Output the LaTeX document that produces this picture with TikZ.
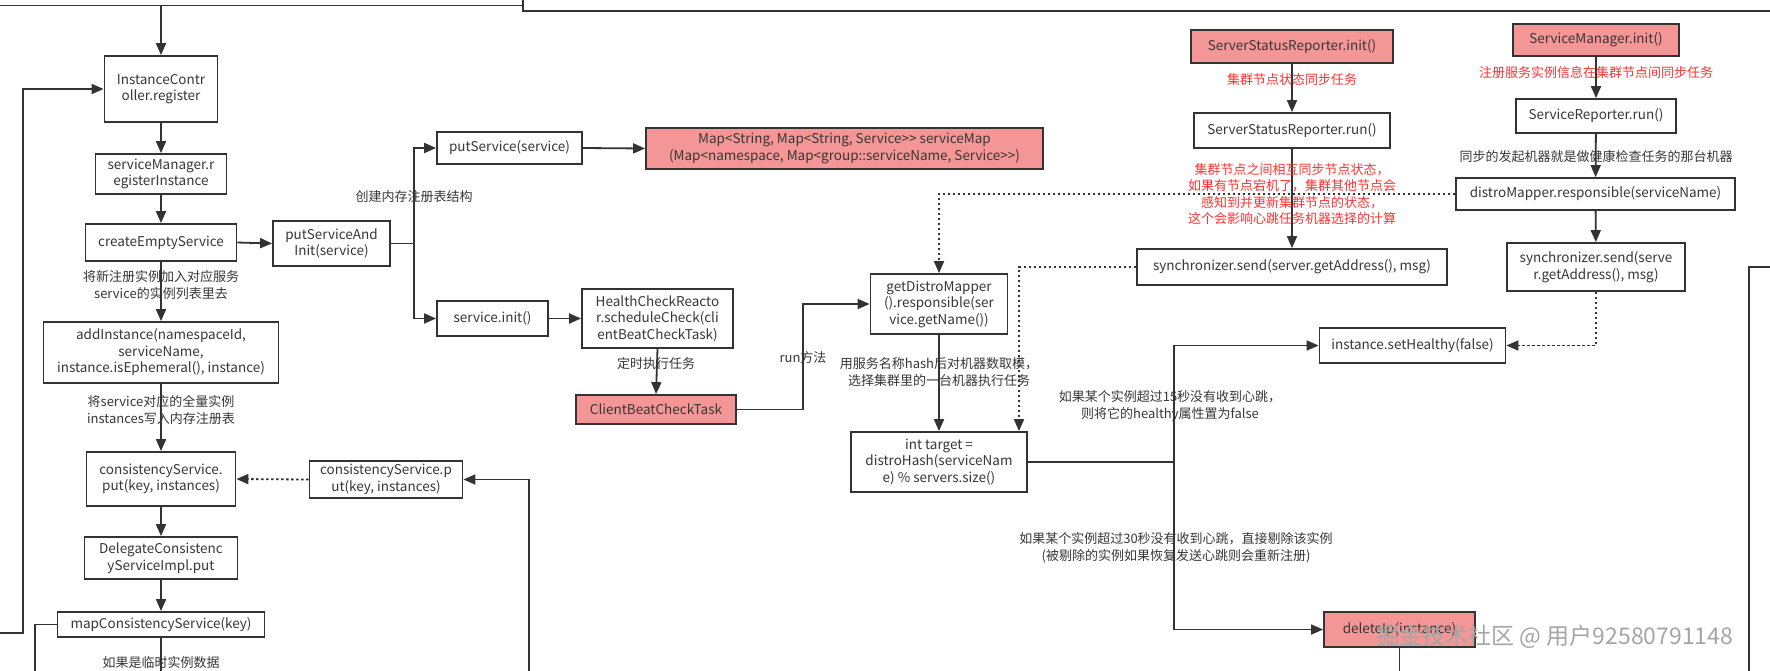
\documentclass[tikz,border=0pt]{standalone}
\usepackage{fontspec}
\setmainfont{Noto Sans CJK SC}
\usetikzlibrary{arrows.meta}
\definecolor{pinkfill}{RGB}{245,150,150}
\definecolor{redtxt}{RGB}{255,51,51}
\definecolor{ln}{RGB}{51,51,51}
\definecolor{txt}{RGB}{55,55,55}
\definecolor{wmark}{RGB}{165,165,165}
\begin{document}
\begin{tikzpicture}[x=1pt,y=-1pt,
  box/.style={draw=ln, line width=1.8pt, fill=white, align=center, inner sep=0pt, text=txt, font=\fontsize{13.5}{16.5}\selectfont},
  pbox/.style={box, fill=pinkfill},
  lbl/.style={align=center, inner sep=0pt, text=txt, font=\fontsize{13}{16.5}\selectfont},
  rlbl/.style={lbl, text=redtxt},
  plain/.style={draw=ln, line width=1.8pt},
  conn/.style={draw=ln, line width=1.8pt, -{Triangle[length=12pt,width=10pt]}},
  dconn/.style={conn, dash pattern=on 2.5pt off 2.5pt}]
\useasboundingbox (0,0) rectangle (1770,670);
\fill[white] (0,0) rectangle (1770,670);

% ---------- left column ----------
\node[box, minimum width=113, minimum height=66] (ic) at (161,89) {InstanceContr\\oller.register};
\node[box, minimum width=131, minimum height=40] (sm) at (161,174) {serviceManager.r\\egisterInstance};
\node[box, minimum width=151, minimum height=37] (ces) at (161,242.5) {createEmptyService};
\node[box, minimum width=235, minimum height=61] (ai) at (161,352.5) {addInstance(namespaceId,\\serviceName,\\instance.isEphemeral(), instance)};
\node[box, minimum width=149, minimum height=54] (csp) at (161,479) {consistencyService.\\put(key, instances)};
\node[box, minimum width=153, minimum height=42] (dcs) at (161,558) {DelegateConsistenc\\yServiceImpl.put};
\node[box, minimum width=207, minimum height=25] (mcs) at (161,624.5) {mapConsistencyService(key)};
\node[box, minimum width=153, minimum height=37] (csp2) at (386,479.5) {consistencyService.p\\ut(key, instances)};

% ---------- middle ----------
\node[box, minimum width=117, minimum height=45] (psai) at (331.5,243.5) {putServiceAnd\\Init(service)};
\node[box, minimum width=145, minimum height=32] (ps) at (509.5,148) {putService(service)};
\node[pbox, minimum width=397, minimum height=41] (map) at (844.5,148.5) {Map<String, Map<String, Service>{}> serviceMap\\(Map<namespace, Map<group::serviceName, Service>{}>)};
\node[box, minimum width=111, minimum height=35] (sinit) at (492.5,318.5) {service.init()};
\node[box, minimum width=151, minimum height=59] (hcr) at (657.5,318.5) {HealthCheckReacto\\r.scheduleCheck(cli\\entBeatCheckTask)};
\node[pbox, minimum width=160, minimum height=29] (cbct) at (656,409.5) {ClientBeatCheckTask};
\node[box, minimum width=137, minimum height=60] (gdm) at (939,304) {getDistroMapper\\().responsible(ser\\vice.getName())};
\node[box, minimum width=176, minimum height=60] (it) at (939,462) {int target =\\distroHash(serviceNam\\e) \% servers.size()};

% ---------- right ----------
\node[pbox, minimum width=202, minimum height=33] (ssri) at (1292,46.5) {ServerStatusReporter.init()};
\node[box, minimum width=196, minimum height=35] (ssrr) at (1292,130.5) {ServerStatusReporter.run()};
\node[box, minimum width=310, minimum height=36] (sync1) at (1292,267) {synchronizer.send(server.getAddress(), msg)};
\node[pbox, minimum width=166, minimum height=32] (smi) at (1596,40) {ServiceManager.init()};
\node[box, minimum width=160, minimum height=34] (srr) at (1596,116) {ServiceReporter.run()};
\node[box, minimum width=279, minimum height=32] (dmr) at (1595.5,194) {distroMapper.responsible(serviceName)};
\node[box, minimum width=178, minimum height=48] (sync2) at (1596,267) {synchronizer.send(serve\\r.getAddress(), msg)};
\node[box, minimum width=186, minimum height=35] (sh) at (1412.5,345.5) {instance.setHealthy(false)};
\node[pbox, minimum width=151, minimum height=35] (del) at (1399.5,629.5) {deleteIp(instance)};

% ---------- frame pieces ----------
\coordinate (tl) at (0,5.5);
\coordinate (tr) at (523,5.5);
\draw[plain] (523,-5) -- (523,11) -- (1775,11);
\draw[plain] (tl) -- (tr);
\draw[conn] (ic.north |- tl) -- (ic.north);
\coordinate (ll) at (0,633);
\draw[conn] (ll) -- (23,633) |- (ic.west);
\coordinate (rt) at (1775,267);
\coordinate (rbot) at (1749,675);
\draw[plain] (rt) -| (rbot);

% ---------- left column connectors ----------
\draw[conn] (ic) -- (sm);
\draw[conn] (sm) -- (ces);
\draw[conn] (ces) -- (ai);
\node[lbl] at (161,285) {将新注册实例加入对应服务\\service的实例列表里去};
\draw[conn] (ai) -- (csp);
\node[lbl] at (161,410) {将service对应的全量实例\\instances写入内存注册表};
\draw[conn] (csp) -- (dcs);
\draw[conn] (dcs) -- (mcs);
\coordinate (mb) at (161,675);
\draw[plain] (mcs.south) -- (mb);
\node[lbl] at (161,663) {如果是临时实例数据};
\coordinate (mlb) at (35,675);
\draw[plain] (mcs.west) -| (mlb);
\draw[dconn] (csp2.west) -- (csp.east);
\coordinate (rlb) at (528.6,675);
\draw[conn] (rlb) |- (csp2.east);

% ---------- middle connectors ----------
\draw[conn] (ces.east) -- (psai.west);
\coordinate (j1) at (414,243.5);
\draw[plain] (psai.east) -- (j1);
\draw[conn] (j1) |- (ps.west);
\draw[conn] (j1) |- (sinit.west);
\node[lbl] at (414,197) {创建内存注册表结构};
\draw[conn] (ps.east) -- (map.west);
\draw[conn] (sinit.east) -- (hcr.west);
\draw[conn] (hcr.south) -- (cbct.north);
\node[lbl] at (656,364) {定时执行任务};
\coordinate (j2) at (803,409.5);
\draw[conn] (cbct.east) -- (j2) |- (gdm.west);
\node[lbl] at (803,358) {run方法};
\draw[conn] (gdm.south) -- (it.north);
\node[lbl] at (939,372) {用服务名称hash后对机器数取模，\\选择集群里的一台机器执行任务};
\coordinate (j3) at (1174,462);
\draw[plain] (it.east) -- (j3);
\draw[conn] (j3) |- (sh.west);
\draw[conn] (j3) |- (del.west);
\node[lbl] at (1170,406) {如果某个实例超过15秒没有收到心跳，\\则将它的healthy属性置为false};
\node[lbl] at (1176,548) {如果某个实例超过30秒没有收到心跳，直接剔除该实例\\(被剔除的实例如果恢复发送心跳则会重新注册)};
\coordinate (db) at (1399.5,675);
\draw[plain] (del.south) -- (db);

% ---------- right connectors ----------
\draw[conn] (ssri) -- (ssrr);
\node[rlbl] at (1292,80) {集群节点状态同步任务};
\draw[conn] (ssrr) -- (sync1);
\node[rlbl] at (1292,194) {集群节点之间相互同步节点状态，\\如果有节点宕机了，集群其他节点会\\感知到并更新集群节点的状态，\\这个会影响心跳任务机器选择的计算};
\draw[conn] (smi) -- (srr);
\node[rlbl] at (1596,73) {注册服务实例信息在集群节点间同步任务};
\draw[conn] (srr) -- (dmr);
\node[lbl] at (1596,157) {同步的发起机器就是做健康检查任务的那台机器};
\draw[conn] (dmr) -- (sync2);
\draw[dconn] (dmr.west) -| (gdm.north);
\coordinate (j4) at (1019,267);
\draw[dconn] (sync1.west) -- (j4) -- (j4 |- it.north);
\draw[dconn] (sync2.south) |- (sh.east);

% ---------- watermark ----------
\node[font=\fontsize{23}{23}\selectfont, text=wmark, inner sep=0pt] at (1555,637) {掘金技术社区 @ 用户92580791148};
\end{tikzpicture}
\end{document}
